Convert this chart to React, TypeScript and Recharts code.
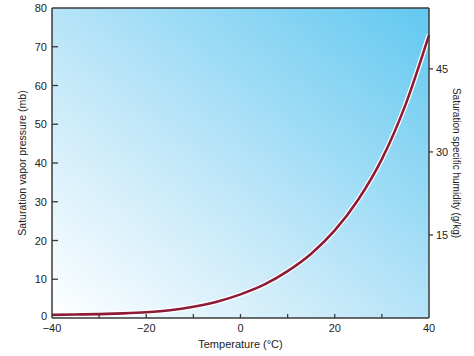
import React from 'react';
import {
  LineChart,
  Line,
  XAxis,
  YAxis,
  ReferenceArea,
  ReferenceLine,
  Label,
} from 'recharts';

// Temperature (°C) and saturation vapor pressure (mb)
const temps = [-40, -35, -30, -25, -20, -15, -10, -5, 0, 5, 10, 15, 20, 25, 30, 35, 40];
const pressure = [0.8, 0.9, 1.0, 1.2, 1.5, 2.0, 2.9, 4.2, 6.1, 8.6, 12.1, 16.6, 22.6, 30.6, 41.0, 55.0, 73.0];

const xTicks = [-40, -30, -20, -10, 0, 10, 20, 30, 40];
const leftTicks = [0, 10, 20, 30, 40, 50, 60, 70, 80];
const rightTicks = [15, 30, 45];

const data = temps.map((t, i) => ({ t, p: pressure[i] }));

const FONT = '"Liberation Sans", Arial, Helvetica, sans-serif';
const AXIS = '#3a3a3a';
const TEXT = '#222';

const LeftTick = (props: any) => {
  const { x, y, payload } = props;
  const ax = x + 5;
  const v = payload.value;
  return (
    <g>
      {v > 0 && v < 80 && <line x1={ax} x2={ax + 6} y1={y} y2={y} stroke={AXIS} strokeWidth={1.3} />}
      <text x={x} y={y} dy={v === 0 ? 2 : 4} textAnchor="end" fontSize={11} fill={TEXT} fontFamily={FONT}>
        {v}
      </text>
    </g>
  );
};

const BottomTick = (props: any) => {
  const { x, y, payload } = props;
  const ay = y - 4;
  const v = payload.value;
  return (
    <g>
      {v > -40 && v < 40 && <line x1={x} x2={x} y1={ay} y2={ay - 4} stroke={AXIS} strokeWidth={1.3} />}
      {v % 20 === 0 && (
        <text x={x} y={y} dy={10} textAnchor="middle" fontSize={11} fill={TEXT} fontFamily={FONT}>
          {v < 0 ? `\u2212${-v}` : v}
        </text>
      )}
    </g>
  );
};

const RightTick = (props: any) => {
  const { x, y, payload } = props;
  const ax = x - 7;
  return (
    <g>
      <line x1={ax} x2={ax + 4} y1={y} y2={y} stroke={AXIS} strokeWidth={1.3} />
      <text x={x} y={y} dy={4} textAnchor="start" fontSize={11} fill={TEXT} fontFamily={FONT}>
        {payload.value}
      </text>
    </g>
  );
};

export default function App() {
  return (
    <div style={{ position: 'absolute', left: 0, top: 0, background: '#fff' }}>
      <LineChart width={474} height={356} data={data} margin={{ top: 8, right: 0, bottom: 0, left: 0 }}>
        <defs>
          <linearGradient id="bg" x1="0" y1="1" x2="1" y2="0">
            <stop offset="0%" stopColor="#ffffff" />
            <stop offset="40%" stopColor="#c6e9f9" />
            <stop offset="100%" stopColor="#62c8f0" />
          </linearGradient>
        </defs>
        <XAxis
          dataKey="t"
          type="number"
          domain={[-40, 40]}
          ticks={xTicks}
          height={38}
          tickSize={0}
          tickMargin={4}
          stroke={AXIS}
          strokeWidth={1.5}
          tick={<BottomTick />}
          interval={0}
        >
          <Label value="Temperature (°C)" position="insideBottom" offset={8} fontSize={11} fill={TEXT} fontFamily={FONT} />
        </XAxis>
        <YAxis
          yAxisId="p"
          domain={[0, 80]}
          ticks={leftTicks}
          width={52}
          tickSize={0}
          tickMargin={5}
          stroke={AXIS}
          strokeWidth={1.5}
          tick={<LeftTick />}
          interval={0}
        >
          <Label value="Saturation vapor pressure (mb)" angle={-90} position="insideLeft" offset={22} fontSize={10.5} fill={TEXT} fontFamily={FONT} style={{ textAnchor: 'middle' }} />
        </YAxis>
        <YAxis
          yAxisId="q"
          orientation="right"
          domain={[0, 56]}
          ticks={rightTicks}
          width={45}
          tickSize={0}
          tickMargin={7}
          stroke={AXIS}
          strokeWidth={1.5}
          tick={<RightTick />}
          interval={0}
          allowDataOverflow
        >
          <Label value="Saturation specific humidity (g/kg)" angle={90} position="insideRight" offset={17} fontSize={10} fill={TEXT} fontFamily={FONT} style={{ textAnchor: 'middle' }} />
        </YAxis>
        <ReferenceArea yAxisId="p" x1={-40} x2={40} y1={0} y2={80} fill="url(#bg)" fillOpacity={1} stroke="none" />
        <ReferenceLine yAxisId="p" y={80} stroke={AXIS} strokeWidth={1.5} />
        <Line yAxisId="p" dataKey="p" type="monotone" stroke="#ffffff" strokeWidth={5} dot={false} isAnimationActive={false} />
        <Line yAxisId="p" dataKey="p" type="monotone" stroke="#8e1b35" strokeWidth={2.6} dot={false} isAnimationActive={false} />
      </LineChart>
    </div>
  );
}
